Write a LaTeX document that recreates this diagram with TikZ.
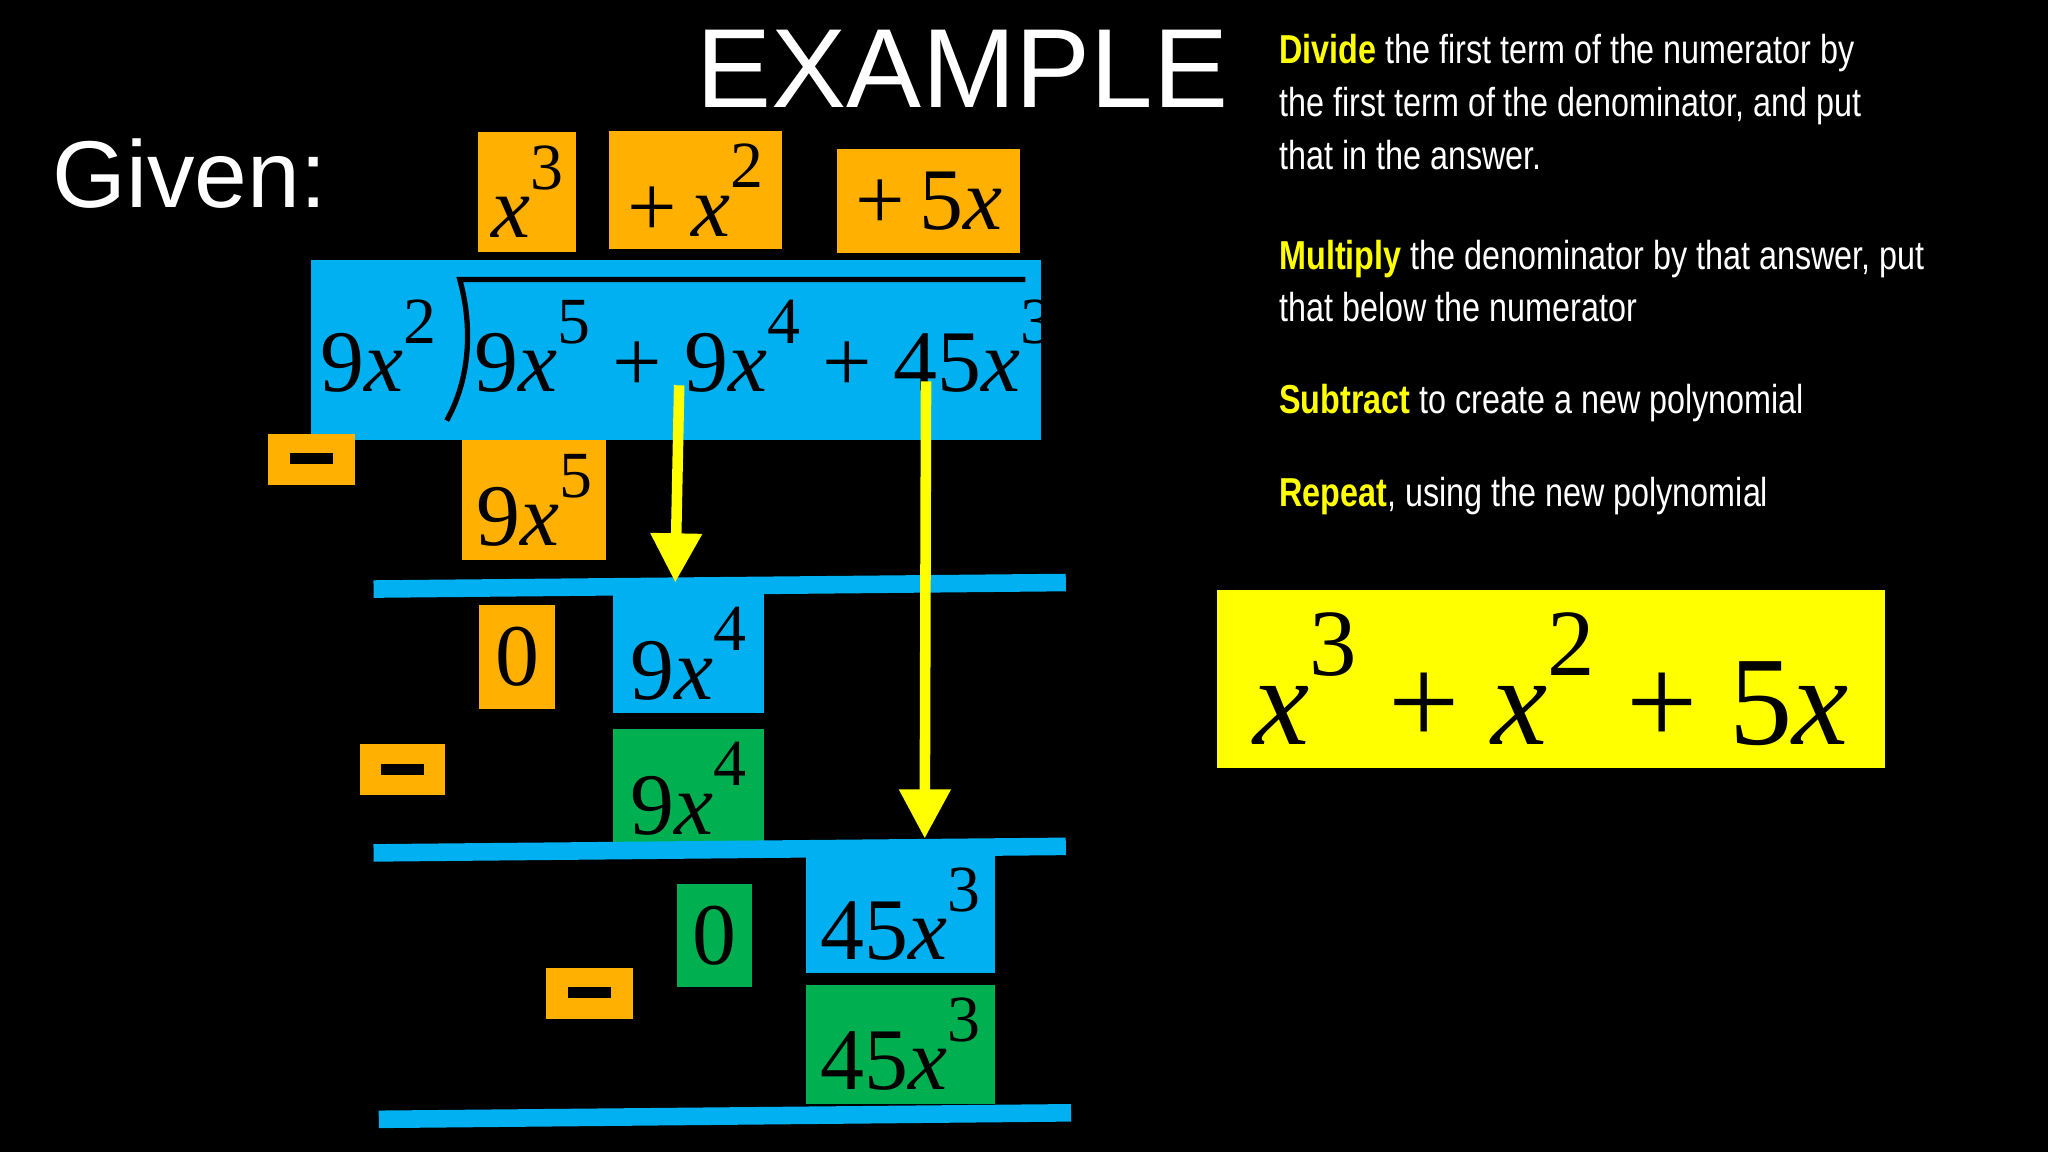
\documentclass[tikz,border=0pt]{standalone}
\usepackage{fontspec}
\setmainfont{Liberation Serif}
\newfontfamily\sans{Liberation Sans}
\newfontfamily\narrow[FakeStretch=0.8]{Liberation Sans}
\usetikzlibrary{arrows.meta}
\definecolor{obox}{HTML}{FFB000}
\definecolor{bbox}{HTML}{00B0F0}
\definecolor{gbox}{HTML}{00B050}
\definecolor{ybox}{HTML}{FFFF00}
\newcommand{\X}{\textit{x}}
\newcommand{\Sp}[1]{\raisebox{0.55em}{\scalebox{0.75}{#1}}}
\newcommand{\bx}[7]{\node[fill=#6,inner sep=0pt,minimum width={(#4-#2)*0.013061cm},minimum height={(#5-#3)*0.013061cm}] (#1) at ({(#2+#4)/2},{(#3+#5)/2}) {#7};}
\tikzset{mathtxt/.style={font=\fontsize{25}{25}\selectfont,text=black},
 bline/.style={draw=bbox,line width=5pt},
 yarr/.style={draw=ybox,line width=3pt,-{Triangle[length=14pt,width=14pt]}},
 dash/.style={}}
\begin{document}
\begin{tikzpicture}[x=0.013061cm,y=-0.013061cm]
\fill[black] (0,0) rectangle (1568,882);
\node[text=white,font=\sans\fontsize{32}{32}\selectfont] (ex) at (737,53) {EXAMPLE};
\node[text=white,font=\sans\fontsize{27}{27}\selectfont] (given) at (145,133) {Given:};
% quotient boxes
\bx{q1}{366}{101}{441}{193}{obox}{\fontsize{25}{25}\selectfont \X\Sp{3}}
\bx{q2}{466}{100}{599}{191}{obox}{\fontsize{25}{25}\selectfont +\,\X\Sp{2}}
\bx{q3}{641}{114}{781}{194}{obox}{\fontsize{25}{25}\selectfont +\,5\X}
% dividend
\bx{div}{238}{199}{797}{337}{bbox}{}
\node[font=\fontsize{25}{25}\selectfont,anchor=west,inner sep=0] (dsr) at (245,265) {9\X\Sp{2}};
\node[font=\fontsize{25}{25}\selectfont,anchor=west,inner sep=0] (dnd) at (363,265) {9\X\Sp{5} + 9\X\Sp{4} + 45\X\Sp{3}};
\draw[line width=1.5pt] (785,214) -- (352,214) .. controls (362,250) and (360,290) .. (342,322);
% rows
\bx{m1}{205}{332}{272}{371}{obox}{\rule{40\pgflinewidth}{0pt}}
\draw[line width=3pt] (222,351) -- (255,351);
\bx{r1}{354}{337}{464}{429}{obox}{\fontsize{25}{25}\selectfont 9\X\Sp{5}}
\coordinate (l1a) at (286,451); \coordinate (l1b) at (816,446);
\draw[bline] (l1a) -- (l1b);
\bx{z1}{367}{463}{425}{543}{obox}{\fontsize{25}{25}\selectfont 0}
\bx{b1}{469}{455}{585}{546}{bbox}{\fontsize{25}{25}\selectfont 9\X\Sp{4}}
\bx{m2}{276}{570}{341}{609}{obox}{}
\draw[line width=3pt] (292,589) -- (325,589);
\bx{g1}{469}{558}{585}{650}{gbox}{\fontsize{25}{25}\selectfont 9\X\Sp{4}}
\coordinate (l2a) at (286,653); \coordinate (l2b) at (816,648);
\draw[bline] (l2a) -- (l2b);
\bx{z2}{518}{677}{576}{756}{gbox}{\fontsize{25}{25}\selectfont 0}
\bx{b2}{617}{655}{762}{745}{bbox}{\fontsize{25}{25}\selectfont 45\X\Sp{3}}
\bx{m3}{418}{741}{485}{780}{obox}{}
\draw[line width=3pt] (435,760) -- (468,760);
\bx{g2}{617}{754}{762}{845}{gbox}{\fontsize{25}{25}\selectfont 45\X\Sp{3}}
\coordinate (l3a) at (290,857); \coordinate (l3b) at (820,852);
\draw[bline] (l3a) -- (l3b);
% arrows
\coordinate (a1s) at (520,295); \coordinate (a1e) at (517,446);
\coordinate (a2s) at (709,292); \coordinate (a2e) at (708,642);
\draw[yarr] (a1s) -- (a1e);
\draw[yarr] (a2s) -- (a2e);
% instructions
\node[anchor=north west,align=left,text=white,font=\narrow\fontsize{11.5}{15}\selectfont,inner sep=0] (t1) at (979,26)
 {\textcolor{ybox}{\bfseries Divide} the first term of the numerator by\\the first term of the denominator, and put\\that in the answer.};
\node[anchor=north west,align=left,text=white,font=\narrow\fontsize{11.5}{15}\selectfont,inner sep=0] (t2) at (979,183)
 {\textcolor{ybox}{\bfseries Multiply} the denominator by that answer, put\\that below the numerator};
\node[anchor=north west,align=left,text=white,font=\narrow\fontsize{11.5}{15}\selectfont,inner sep=0] (t3) at (979,294)
 {\textcolor{ybox}{\bfseries Subtract} to create a new polynomial};
\node[anchor=north west,align=left,text=white,font=\narrow\fontsize{11.5}{15}\selectfont,inner sep=0] (t4) at (979,365)
 {\textcolor{ybox}{\bfseries Repeat}, using the new polynomial};
\bx{ans}{932}{452}{1443}{588}{ybox}{\fontsize{36}{36}\selectfont \X\Sp{3} + \X\Sp{2} + 5\X}
\end{tikzpicture}
\end{document}
